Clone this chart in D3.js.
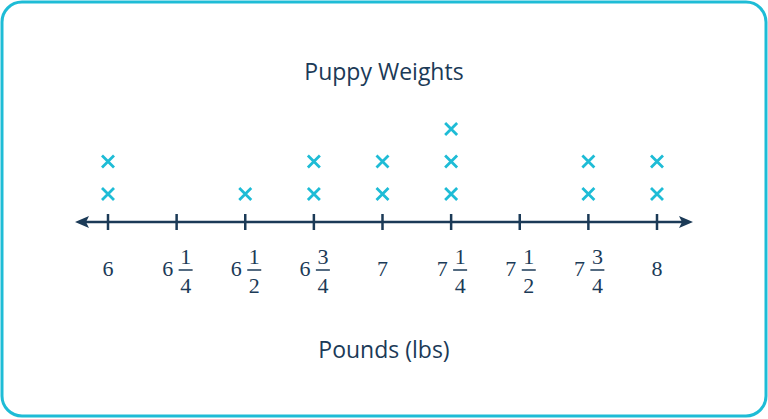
<!DOCTYPE html>
<html><head><meta charset="utf-8">
<script src="https://cdn.jsdelivr.net/npm/d3@7"></script>
<style>body{margin:0;background:#fff}</style>
</head><body>
<svg id="chart" width="768" height="419"></svg>
<script>
// data
var values = [6, 6.25, 6.5, 6.75, 7, 7.25, 7.5, 7.75, 8];
var counts = [2, 0, 1, 2, 2, 3, 0, 2, 2];
var wholes = ["6", "6", "6", "6", "7", "7", "7", "7", "8"];
var fracs = [null, ["1","4"], ["1","2"], ["3","4"], null, ["1","4"], ["1","2"], ["3","4"], null];

var navy = "#1b3a57", cyan = "#1ebcd6";
var svg = d3.select("#chart");

svg.append("rect").attr("x", 2).attr("y", 2).attr("width", 764).attr("height", 414)
    .attr("rx", 20).attr("fill", "#fff").attr("stroke", cyan).attr("stroke-width", 3);

svg.append("text").attr("x", 384).attr("y", 80).attr("text-anchor", "middle")
    .attr("font-family", "'Open Sans', sans-serif").attr("font-size", 23).attr("fill", navy)
    .text("Puppy Weights");
svg.append("text").attr("x", 384).attr("y", 358).attr("text-anchor", "middle")
    .attr("font-family", "'Open Sans', sans-serif").attr("font-size", 23).attr("fill", navy)
    .text("Pounds (lbs)");

var x = d3.scaleLinear().domain([6, 8]).range([108, 657]);
var y0 = 222;

// axis line with arrows
svg.append("line").attr("x1", 82).attr("x2", 686).attr("y1", y0).attr("y2", y0)
    .attr("stroke", navy).attr("stroke-width", 2.5);
svg.append("path").attr("d", "M75," + y0 + "L89," + (y0 - 6) + "L86," + y0 + "L89," + (y0 + 6) + "Z").attr("fill", navy);
svg.append("path").attr("d", "M693," + y0 + "L679," + (y0 - 6) + "L682," + y0 + "L679," + (y0 + 6) + "Z").attr("fill", navy);

var g = svg.selectAll("g.tick").data(values).enter().append("g")
    .attr("transform", function(d) { return "translate(" + x(d) + ",0)"; });
g.append("line").attr("y1", y0 - 8).attr("y2", y0 + 8).attr("stroke", navy).attr("stroke-width", 2.5);

var serif = "'Liberation Serif', 'DejaVu Serif', serif";
g.each(function(d, i) {
    var s = d3.select(this);
    var f = fracs[i];
    var off = f ? -9 : 0;
    s.append("text").attr("x", off).attr("y", 276).attr("text-anchor", "middle")
        .attr("font-family", serif).attr("font-size", 22).attr("fill", navy).text(wholes[i]);
    if (f) {
        s.append("text").attr("x", 9).attr("y", 264).attr("text-anchor", "middle")
            .attr("font-family", serif).attr("font-size", 22).attr("fill", navy).text(f[0]);
        s.append("line").attr("x1", 2).attr("x2", 16).attr("y1", 270).attr("y2", 270)
            .attr("stroke", navy).attr("stroke-width", 1.5);
        s.append("text").attr("x", 9).attr("y", 293).attr("text-anchor", "middle")
            .attr("font-family", serif).attr("font-size", 22).attr("fill", navy).text(f[1]);
    }
    // crosses
    var yc = d3.scaleLinear().domain([1, 3]).range([194, 129]);
    for (var k = 1; k <= counts[i]; k++) {
        var cy = yc(k), r = 6;
        s.append("path").attr("d", "M" + (-r) + "," + (cy - r) + "L" + r + "," + (cy + r) +
            "M" + r + "," + (cy - r) + "L" + (-r) + "," + (cy + r))
            .attr("stroke", cyan).attr("stroke-width", 2.8);
    }
});
</script>
</body></html>
